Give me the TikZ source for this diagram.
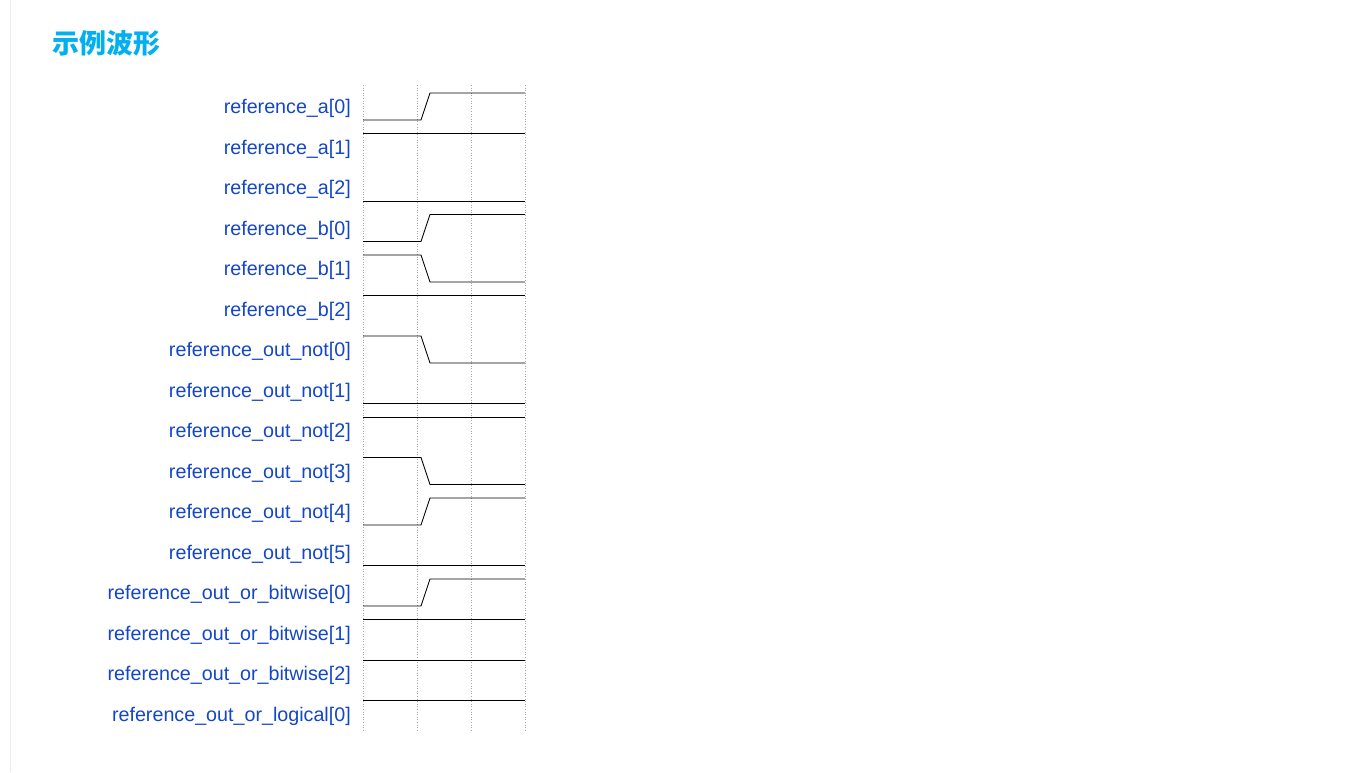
\documentclass[tikz,border=0pt]{standalone}
\usepackage{fontspec}
\setmainfont{Liberation Sans}
\newfontfamily\cjk{Noto Sans CJK SC}
\definecolor{lbl}{RGB}{20,70,200}
\definecolor{ttl}{RGB}{0,176,240}
\begin{document}
\begin{tikzpicture}[x=1pt,y=-1pt,
  lab/.style={anchor=east,text=lbl,font=\fontsize{19.7}{22}\selectfont,inner sep=0pt},
  wave/.style={line width=0.9pt,black},
  grid/.style={gray!70,dotted,line width=0.6pt}]
\useasboundingbox[fill=white] (0,0) rectangle (1366,772);
\draw[gray!15,line width=1pt] (10,0) -- (10,772);
\node[anchor=west,text=ttl,font=\cjk\bfseries\fontsize{27}{30}\selectfont,inner sep=0pt] (title) at (52,43) {示例波形};
\foreach \x in {363,417,471,525} \draw[grid] (\x,85) -- (\x,732);
\foreach \n/\t [count=\i from 0] in {
  a0/reference\_a[0], a1/reference\_a[1], a2/reference\_a[2],
  b0/reference\_b[0], b1/reference\_b[1], b2/reference\_b[2],
  n0/reference\_out\_not[0], n1/reference\_out\_not[1], n2/reference\_out\_not[2],
  n3/reference\_out\_not[3], n4/reference\_out\_not[4], n5/reference\_out\_not[5],
  o0/reference\_out\_or\_bitwise[0], o1/reference\_out\_or\_bitwise[1], o2/reference\_out\_or\_bitwise[2],
  l0/reference\_out\_or\_logical[0]}
  \node[lab] (\n) at (351,{108.5+40.5*\i}) {\t};
% waves: 0 = low, 1 = high, r rise, f fall
\foreach \i/\k in {0/r,1/1,2/0,3/r,4/f,5/1,6/f,7/0,8/1,9/f,10/r,11/0,12/r,13/1,14/1,15/1}{
  \pgfmathsetmacro\hy{107+40.5*\i-14}
  \pgfmathsetmacro\ly{107+40.5*\i+13}
  \if\k r\draw[wave] (363,\ly) -- (421,\ly) -- (430,\hy) -- (525,\hy);\fi
  \if\k f\draw[wave] (363,\hy) -- (421,\hy) -- (430,\ly) -- (525,\ly);\fi
  \if\k 1\draw[wave] (363,\hy) -- (525,\hy);\fi
  \if\k 0\draw[wave] (363,\ly) -- (525,\ly);\fi
}
\end{tikzpicture}
\end{document}
